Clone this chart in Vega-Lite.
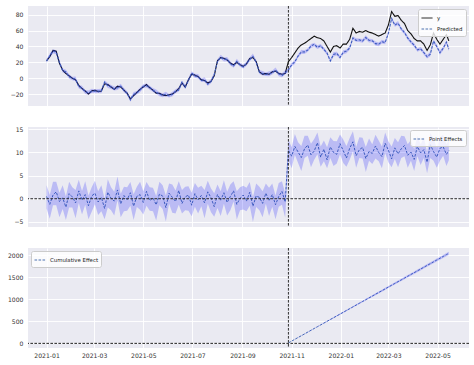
{
"$schema": "https://vega.github.io/schema/vega-lite/v6.json",
"padding": {"left": 6, "top": 5, "right": 5, "bottom": 2},
"background": "white",
"spacing": 19,
"resolve": {"scale": {"color": "independent", "strokeDash": "independent", "x": "independent", "y": "independent"}, "legend": {"color": "independent", "strokeDash": "independent"}},
"config": {
  "view": {"fill": "#EAEAF2", "stroke": null},
  "font": "DejaVu Sans",
  "axis": {"domain": false, "ticks": false, "tickSize": 0, "gridColor": "#ffffff", "gridWidth": 0.9, "labelFontSize": 6.1, "labelColor": "#333333", "title": null, "labelPadding": 5, "labelFont": "DejaVu Sans", "labelOverlap": false, "tickCount": 12},
  "axisY": {"minExtent": 22, "maxExtent": 22, "format": "d", "labelOverlap": false},
  "legend": {"symbolType": "stroke", "symbolSize": 121, "symbolStrokeWidth": 1, "labelFontSize": 5.4, "labelColor": "#222222", "labelFont": "DejaVu Sans", "labelOffset": 4, "padding": 3, "rowPadding": 1, "fillColor": "rgba(255,255,255,0.8)", "strokeColor": "#cccccc", "cornerRadius": 2, "offset": 3}
},
"datasets": {"d": [
{"d":"2021-01-01","y":22,"Predicted":21.5,"pl":19.1,"pu":24.1,"e":0.5,"el":-2.1,"eu":2.9},
{"d":"2021-01-05","y":27,"Predicted":28.2,"pl":26.2,"pu":31.3,"e":-1.2,"el":-4.3,"eu":0.8},
{"d":"2021-01-09","y":35,"Predicted":34.2,"pl":31.3,"pu":36.4,"e":0.8,"el":-1.4,"eu":3.7},
{"d":"2021-01-13","y":34,"Predicted":32.5,"pl":30.3,"pu":35.4,"e":1.5,"el":-1.4,"eu":3.7},
{"d":"2021-01-17","y":19,"Predicted":19.6,"pl":17.7,"pu":23.0,"e":-0.6,"el":-4.0,"eu":1.3},
{"d":"2021-01-21","y":10,"Predicted":9.8,"pl":7.1,"pu":12.2,"e":0.2,"el":-2.2,"eu":2.9},
{"d":"2021-01-25","y":6,"Predicted":7.8,"pl":5.5,"pu":10.6,"e":-1.8,"el":-4.6,"eu":0.5},
{"d":"2021-01-29","y":3,"Predicted":1.9,"pl":-0.7,"pu":4.9,"e":1.1,"el":-1.9,"eu":3.7},
{"d":"2021-02-02","y":0,"Predicted":-0.4,"pl":-2.5,"pu":1.9,"e":0.4,"el":-1.9,"eu":2.5},
{"d":"2021-02-06","y":-2,"Predicted":-1.1,"pl":-3.9,"pu":2.2,"e":-0.9,"el":-4.2,"eu":1.9},
{"d":"2021-02-10","y":-9,"Predicted":-10.7,"pl":-13.1,"pu":-8.1,"e":1.7,"el":-0.9,"eu":4.1},
{"d":"2021-02-14","y":-13,"Predicted":-12.7,"pl":-14.7,"pu":-9.6,"e":-0.3,"el":-3.4,"eu":1.7},
{"d":"2021-02-18","y":-16,"Predicted":-16.9,"pl":-19.8,"pu":-14.7,"e":0.9,"el":-1.3,"eu":3.8},
{"d":"2021-02-22","y":-20,"Predicted":-18.5,"pl":-20.7,"pu":-15.6,"e":-1.5,"el":-4.4,"eu":0.7},
{"d":"2021-02-26","y":-16,"Predicted":-16.6,"pl":-18.5,"pu":-13.2,"e":0.6,"el":-2.8,"eu":2.5},
{"d":"2021-03-02","y":-15,"Predicted":-16.2,"pl":-18.9,"pu":-13.8,"e":1.2,"el":-1.2,"eu":3.9},
{"d":"2021-03-06","y":-17,"Predicted":-16.3,"pl":-18.6,"pu":-13.5,"e":-0.7,"el":-3.5,"eu":1.6},
{"d":"2021-03-10","y":-16,"Predicted":-16.3,"pl":-18.9,"pu":-13.3,"e":0.3,"el":-2.7,"eu":2.9},
{"d":"2021-03-14","y":-7,"Predicted":-4.9,"pl":-7.0,"pu":-2.6,"e":-2.1,"el":-4.4,"eu":0.0},
{"d":"2021-03-18","y":-8,"Predicted":-9.4,"pl":-12.2,"pu":-6.1,"e":1.4,"el":-1.9,"eu":4.2},
{"d":"2021-03-22","y":-11,"Predicted":-11.1,"pl":-13.5,"pu":-8.5,"e":0.1,"el":-2.5,"eu":2.5},
{"d":"2021-03-26","y":-14,"Predicted":-13.5,"pl":-15.5,"pu":-10.4,"e":-0.5,"el":-3.6,"eu":1.5},
{"d":"2021-03-30","y":-10,"Predicted":-11.9,"pl":-14.8,"pu":-9.7,"e":1.9,"el":-0.3,"eu":4.8},
{"d":"2021-04-03","y":-11,"Predicted":-9.9,"pl":-12.1,"pu":-7.0,"e":-1.1,"el":-4.0,"eu":1.1},
{"d":"2021-04-07","y":-15,"Predicted":-15.7,"pl":-17.6,"pu":-12.3,"e":0.7,"el":-2.7,"eu":2.6},
{"d":"2021-04-11","y":-19,"Predicted":-18.8,"pl":-21.5,"pu":-16.4,"e":-0.2,"el":-2.6,"eu":2.5},
{"d":"2021-04-15","y":-26,"Predicted":-27.3,"pl":-29.6,"pu":-24.5,"e":1.3,"el":-1.5,"eu":3.6},
{"d":"2021-04-19","y":-22,"Predicted":-20.4,"pl":-23.0,"pu":-17.4,"e":-1.6,"el":-4.6,"eu":1.0},
{"d":"2021-04-23","y":-18,"Predicted":-18.5,"pl":-20.6,"pu":-16.2,"e":0.5,"el":-1.8,"eu":2.6},
{"d":"2021-04-27","y":-14,"Predicted":-14.9,"pl":-17.7,"pu":-11.6,"e":0.9,"el":-2.4,"eu":3.7},
{"d":"2021-05-01","y":-11,"Predicted":-10.2,"pl":-12.6,"pu":-7.6,"e":-0.8,"el":-3.4,"eu":1.6},
{"d":"2021-05-05","y":-8,"Predicted":-9.6,"pl":-11.6,"pu":-6.5,"e":1.6,"el":-1.5,"eu":3.6},
{"d":"2021-05-09","y":-12,"Predicted":-11.6,"pl":-14.5,"pu":-9.4,"e":-0.4,"el":-2.6,"eu":2.5},
{"d":"2021-05-13","y":-15,"Predicted":-15.2,"pl":-17.4,"pu":-12.3,"e":0.2,"el":-2.7,"eu":2.4},
{"d":"2021-05-17","y":-19,"Predicted":-17.7,"pl":-19.6,"pu":-14.3,"e":-1.3,"el":-4.7,"eu":0.6},
{"d":"2021-05-21","y":-19,"Predicted":-20.0,"pl":-22.7,"pu":-17.6,"e":1.0,"el":-1.4,"eu":3.7},
{"d":"2021-05-25","y":-21,"Predicted":-21.6,"pl":-23.9,"pu":-18.8,"e":0.6,"el":-2.2,"eu":2.9},
{"d":"2021-05-29","y":-22,"Predicted":-20.1,"pl":-22.7,"pu":-17.1,"e":-1.9,"el":-4.9,"eu":0.7},
{"d":"2021-06-02","y":-21,"Predicted":-22.2,"pl":-24.3,"pu":-19.9,"e":1.2,"el":-1.1,"eu":3.3},
{"d":"2021-06-06","y":-20,"Predicted":-20.3,"pl":-23.1,"pu":-17.0,"e":0.3,"el":-3.0,"eu":3.1},
{"d":"2021-06-10","y":-17,"Predicted":-16.4,"pl":-18.8,"pu":-13.8,"e":-0.6,"el":-3.2,"eu":1.8},
{"d":"2021-06-14","y":-13,"Predicted":-14.8,"pl":-16.8,"pu":-11.7,"e":1.8,"el":-1.3,"eu":3.8},
{"d":"2021-06-18","y":-6,"Predicted":-5.0,"pl":-7.9,"pu":-2.8,"e":-1.0,"el":-3.2,"eu":1.9},
{"d":"2021-06-22","y":-11,"Predicted":-11.4,"pl":-13.6,"pu":-8.5,"e":0.4,"el":-2.5,"eu":2.6},
{"d":"2021-06-26","y":-2,"Predicted":-2.8,"pl":-4.7,"pu":0.6,"e":0.8,"el":-2.6,"eu":2.7},
{"d":"2021-06-30","y":5,"Predicted":6.4,"pl":3.7,"pu":8.8,"e":-1.4,"el":-3.8,"eu":1.3},
{"d":"2021-07-04","y":4,"Predicted":2.9,"pl":0.6,"pu":5.7,"e":1.1,"el":-1.7,"eu":3.4},
{"d":"2021-07-08","y":2,"Predicted":2.2,"pl":-0.4,"pu":5.2,"e":-0.2,"el":-3.2,"eu":2.4},
{"d":"2021-07-12","y":-2,"Predicted":-2.7,"pl":-4.8,"pu":-0.4,"e":0.7,"el":-1.6,"eu":2.8},
{"d":"2021-07-16","y":-3,"Predicted":-2.1,"pl":-4.9,"pu":1.2,"e":-0.9,"el":-4.2,"eu":1.9},
{"d":"2021-07-20","y":-6,"Predicted":-7.5,"pl":-9.9,"pu":-4.9,"e":1.5,"el":-1.1,"eu":3.9},
{"d":"2021-07-24","y":-4,"Predicted":-4.2,"pl":-6.2,"pu":-1.1,"e":0.2,"el":-2.9,"eu":2.2},
{"d":"2021-07-28","y":3,"Predicted":4.7,"pl":1.8,"pu":6.9,"e":-1.7,"el":-3.9,"eu":1.2},
{"d":"2021-08-01","y":22,"Predicted":21.1,"pl":18.9,"pu":24.0,"e":0.9,"el":-2.0,"eu":3.1},
{"d":"2021-08-05","y":26,"Predicted":26.3,"pl":24.4,"pu":29.7,"e":-0.3,"el":-3.7,"eu":1.6},
{"d":"2021-08-09","y":25,"Predicted":23.7,"pl":21.0,"pu":26.1,"e":1.3,"el":-1.1,"eu":4.0},
{"d":"2021-08-13","y":23,"Predicted":23.8,"pl":21.5,"pu":26.6,"e":-0.8,"el":-3.6,"eu":1.5},
{"d":"2021-08-17","y":19,"Predicted":18.5,"pl":15.9,"pu":21.5,"e":0.5,"el":-2.5,"eu":3.1},
{"d":"2021-08-21","y":17,"Predicted":15.3,"pl":13.2,"pu":17.6,"e":1.7,"el":-0.6,"eu":3.8},
{"d":"2021-08-25","y":20,"Predicted":21.2,"pl":18.4,"pu":24.5,"e":-1.2,"el":-4.5,"eu":1.6},
{"d":"2021-08-29","y":17,"Predicted":16.9,"pl":14.5,"pu":19.5,"e":0.1,"el":-2.5,"eu":2.5},
{"d":"2021-09-02","y":15,"Predicted":14.2,"pl":12.2,"pu":17.3,"e":0.8,"el":-2.3,"eu":2.8},
{"d":"2021-09-06","y":18,"Predicted":18.5,"pl":15.6,"pu":20.7,"e":-0.5,"el":-2.7,"eu":2.4},
{"d":"2021-09-10","y":25,"Predicted":23.6,"pl":21.4,"pu":26.5,"e":1.4,"el":-1.5,"eu":3.6},
{"d":"2021-09-14","y":26,"Predicted":27.6,"pl":25.7,"pu":31.0,"e":-1.6,"el":-5.0,"eu":0.3},
{"d":"2021-09-18","y":21,"Predicted":20.4,"pl":17.7,"pu":22.8,"e":0.6,"el":-1.8,"eu":3.3},
{"d":"2021-09-22","y":8,"Predicted":7.7,"pl":5.4,"pu":10.5,"e":0.3,"el":-2.5,"eu":2.6},
{"d":"2021-09-26","y":5,"Predicted":6.0,"pl":3.4,"pu":9.0,"e":-1.0,"el":-4.0,"eu":1.6},
{"d":"2021-09-30","y":6,"Predicted":4.8,"pl":2.7,"pu":7.1,"e":1.2,"el":-1.1,"eu":3.3},
{"d":"2021-10-04","y":5,"Predicted":5.4,"pl":2.6,"pu":8.7,"e":-0.4,"el":-3.7,"eu":2.4},
{"d":"2021-10-08","y":8,"Predicted":7.1,"pl":4.7,"pu":9.7,"e":0.9,"el":-1.7,"eu":3.3},
{"d":"2021-10-12","y":9,"Predicted":10.3,"pl":8.3,"pu":13.4,"e":-1.3,"el":-4.4,"eu":0.7},
{"d":"2021-10-16","y":6,"Predicted":5.5,"pl":2.6,"pu":7.7,"e":0.5,"el":-1.7,"eu":3.4},
{"d":"2021-10-20","y":5,"Predicted":3.4,"pl":1.2,"pu":6.3,"e":1.6,"el":-1.3,"eu":3.8},
{"d":"2021-10-24","y":6,"Predicted":6.7,"pl":4.8,"pu":10.1,"e":-0.7,"el":-4.1,"eu":1.2},
{"d":"2021-10-28","y":21,"Predicted":10.5,"pl":8.2,"pu":12.6,"e":10.5,"el":8.4,"eu":12.8,"c":10,"cl":7,"cu":13},
{"d":"2021-11-01","y":26,"Predicted":16.8,"pl":14.9,"pu":19.4,"e":9.2,"el":6.6,"eu":11.1,"c":51,"cl":47,"cu":55},
{"d":"2021-11-05","y":32,"Predicted":20.7,"pl":18.0,"pu":22.5,"e":11.3,"el":9.5,"eu":14.0,"c":92,"cl":88,"cu":96},
{"d":"2021-11-09","y":38,"Predicted":27.9,"pl":25.8,"pu":30.3,"e":10.1,"el":7.7,"eu":12.2,"c":133,"cl":128,"cu":138},
{"d":"2021-11-13","y":42,"Predicted":33.1,"pl":30.6,"pu":36.0,"e":8.9,"el":6.0,"eu":11.4,"c":173,"cl":167,"cu":179},
{"d":"2021-11-17","y":44,"Predicted":33.2,"pl":30.4,"pu":35.2,"e":10.8,"el":8.8,"eu":13.6,"c":214,"cl":208,"cu":220},
{"d":"2021-11-21","y":47,"Predicted":35.4,"pl":33.4,"pu":37.7,"e":11.6,"el":9.3,"eu":13.6,"c":255,"cl":248,"cu":262},
{"d":"2021-11-25","y":50,"Predicted":40.5,"pl":38.1,"pu":43.2,"e":9.5,"el":6.8,"eu":11.9,"c":296,"cl":288,"cu":304},
{"d":"2021-11-29","y":53,"Predicted":42.7,"pl":40.1,"pu":44.6,"e":10.3,"el":8.4,"eu":12.9,"c":337,"cl":329,"cu":345},
{"d":"2021-12-03","y":51,"Predicted":38.9,"pl":36.7,"pu":41.4,"e":12.1,"el":9.6,"eu":14.3,"c":377,"cl":368,"cu":386},
{"d":"2021-12-07","y":50,"Predicted":41.0,"pl":38.7,"pu":43.1,"e":9.0,"el":6.9,"eu":11.3,"c":418,"cl":409,"cu":427},
{"d":"2021-12-11","y":47,"Predicted":36.3,"pl":34.4,"pu":38.9,"e":10.7,"el":8.1,"eu":12.6,"c":459,"cl":449,"cu":469},
{"d":"2021-12-15","y":40,"Predicted":31.6,"pl":28.9,"pu":33.4,"e":8.4,"el":6.6,"eu":11.1,"c":500,"cl":489,"cu":511},
{"d":"2021-12-19","y":33,"Predicted":21.8,"pl":19.7,"pu":24.2,"e":11.2,"el":8.8,"eu":13.3,"c":541,"cl":530,"cu":552},
{"d":"2021-12-23","y":40,"Predicted":30.0,"pl":27.5,"pu":32.9,"e":10.0,"el":7.1,"eu":12.5,"c":581,"cl":569,"cu":593},
{"d":"2021-12-27","y":41,"Predicted":31.4,"pl":28.6,"pu":33.4,"e":9.6,"el":7.6,"eu":12.4,"c":622,"cl":609,"cu":635},
{"d":"2021-12-31","y":38,"Predicted":26.1,"pl":24.1,"pu":28.4,"e":11.9,"el":9.6,"eu":13.9,"c":663,"cl":650,"cu":676},
{"d":"2022-01-04","y":43,"Predicted":32.6,"pl":30.2,"pu":35.3,"e":10.4,"el":7.7,"eu":12.8,"c":704,"cl":690,"cu":718},
{"d":"2022-01-08","y":43,"Predicted":34.2,"pl":31.6,"pu":36.1,"e":8.8,"el":6.9,"eu":11.4,"c":745,"cl":730,"cu":760},
{"d":"2022-01-12","y":49,"Predicted":38.1,"pl":35.9,"pu":40.6,"e":10.9,"el":8.4,"eu":13.1,"c":785,"cl":770,"cu":800},
{"d":"2022-01-16","y":63,"Predicted":50.7,"pl":48.4,"pu":52.8,"e":12.3,"el":10.2,"eu":14.6,"c":826,"cl":810,"cu":842},
{"d":"2022-01-20","y":57,"Predicted":47.7,"pl":45.8,"pu":50.3,"e":9.3,"el":6.7,"eu":11.2,"c":867,"cl":850,"cu":884},
{"d":"2022-01-24","y":59,"Predicted":48.4,"pl":45.7,"pu":50.2,"e":10.6,"el":8.8,"eu":13.3,"c":908,"cl":891,"cu":925},
{"d":"2022-01-28","y":58,"Predicted":46.9,"pl":44.8,"pu":49.3,"e":11.1,"el":8.7,"eu":13.2,"c":949,"cl":931,"cu":967},
{"d":"2022-02-01","y":60,"Predicted":51.3,"pl":48.8,"pu":54.2,"e":8.7,"el":5.8,"eu":11.2,"c":989,"cl":970,"cu":1008},
{"d":"2022-02-05","y":58,"Predicted":47.8,"pl":45.0,"pu":49.8,"e":10.2,"el":8.2,"eu":13.0,"c":1030,"cl":1011,"cu":1049},
{"d":"2022-02-09","y":57,"Predicted":47.2,"pl":45.2,"pu":49.5,"e":9.8,"el":7.5,"eu":11.8,"c":1071,"cl":1051,"cu":1091},
{"d":"2022-02-13","y":55,"Predicted":43.6,"pl":41.2,"pu":46.3,"e":11.4,"el":8.7,"eu":13.8,"c":1112,"cl":1091,"cu":1133},
{"d":"2022-02-17","y":53,"Predicted":43.0,"pl":40.4,"pu":44.9,"e":10.0,"el":8.1,"eu":12.6,"c":1153,"cl":1132,"cu":1174},
{"d":"2022-02-21","y":55,"Predicted":45.9,"pl":43.7,"pu":48.4,"e":9.1,"el":6.6,"eu":11.3,"c":1193,"cl":1171,"cu":1215},
{"d":"2022-02-25","y":57,"Predicted":45.0,"pl":42.7,"pu":47.1,"e":12.0,"el":9.9,"eu":14.3,"c":1234,"cl":1211,"cu":1257},
{"d":"2022-03-01","y":67,"Predicted":56.5,"pl":54.6,"pu":59.1,"e":10.5,"el":7.9,"eu":12.4,"c":1275,"cl":1252,"cu":1298},
{"d":"2022-03-05","y":84,"Predicted":75.4,"pl":72.7,"pu":77.2,"e":8.6,"el":6.8,"eu":11.3,"c":1316,"cl":1292,"cu":1340},
{"d":"2022-03-09","y":78,"Predicted":67.0,"pl":64.9,"pu":69.4,"e":11.0,"el":8.6,"eu":13.1,"c":1357,"cl":1332,"cu":1382},
{"d":"2022-03-13","y":79,"Predicted":69.3,"pl":66.8,"pu":72.2,"e":9.7,"el":6.8,"eu":12.2,"c":1397,"cl":1372,"cu":1422},
{"d":"2022-03-17","y":73,"Predicted":62.2,"pl":59.4,"pu":64.2,"e":10.8,"el":8.8,"eu":13.6,"c":1438,"cl":1412,"cu":1464},
{"d":"2022-03-21","y":69,"Predicted":57.5,"pl":55.5,"pu":59.8,"e":11.5,"el":9.2,"eu":13.5,"c":1479,"cl":1452,"cu":1506},
{"d":"2022-03-25","y":60,"Predicted":50.6,"pl":48.2,"pu":53.3,"e":9.4,"el":6.7,"eu":11.8,"c":1520,"cl":1493,"cu":1547},
{"d":"2022-03-29","y":56,"Predicted":45.9,"pl":43.3,"pu":47.8,"e":10.1,"el":8.2,"eu":12.7,"c":1561,"cl":1533,"cu":1589},
{"d":"2022-04-02","y":50,"Predicted":41.5,"pl":39.3,"pu":44.0,"e":8.5,"el":6.0,"eu":10.7,"c":1601,"cl":1572,"cu":1630},
{"d":"2022-04-06","y":47,"Predicted":35.7,"pl":33.4,"pu":37.8,"e":11.3,"el":9.2,"eu":13.6,"c":1642,"cl":1613,"cu":1671},
{"d":"2022-04-10","y":47,"Predicted":37.1,"pl":35.2,"pu":39.7,"e":9.9,"el":7.3,"eu":11.8,"c":1683,"cl":1653,"cu":1713},
{"d":"2022-04-14","y":43,"Predicted":32.4,"pl":29.7,"pu":34.2,"e":10.6,"el":8.8,"eu":13.3,"c":1724,"cl":1693,"cu":1755},
{"d":"2022-04-18","y":35,"Predicted":27.1,"pl":25.0,"pu":29.5,"e":7.9,"el":5.5,"eu":10.0,"c":1765,"cl":1734,"cu":1796},
{"d":"2022-04-22","y":42,"Predicted":30.3,"pl":27.8,"pu":33.2,"e":11.7,"el":8.8,"eu":14.2,"c":1805,"cl":1773,"cu":1837},
{"d":"2022-04-26","y":57,"Predicted":46.8,"pl":44.0,"pu":48.8,"e":10.2,"el":8.2,"eu":13.0,"c":1846,"cl":1813,"cu":1879},
{"d":"2022-04-30","y":49,"Predicted":40.0,"pl":38.0,"pu":42.3,"e":9.0,"el":6.7,"eu":11.0,"c":1887,"cl":1854,"cu":1920},
{"d":"2022-05-04","y":43,"Predicted":32.1,"pl":29.7,"pu":34.8,"e":10.9,"el":8.2,"eu":13.3,"c":1928,"cl":1894,"cu":1962},
{"d":"2022-05-08","y":49,"Predicted":37.8,"pl":35.2,"pu":39.7,"e":11.2,"el":9.3,"eu":13.8,"c":1969,"cl":1934,"cu":2004},
{"d":"2022-05-12","y":55,"Predicted":45.4,"pl":43.2,"pu":47.9,"e":9.6,"el":7.1,"eu":11.8,"c":2009,"cl":1974,"cu":2044},
{"d":"2022-05-15","y":47,"Predicted":36.6,"pl":34.3,"pu":38.7,"e":10.4,"el":8.3,"eu":12.7,"c":2040,"cl":2004,"cu":2076}
]},
"vconcat": [
{
  "width": 441, "height": 100,
  "layer": [
    {"data": {"name": "d"}, "transform": [{"fold": ["y", "Predicted"], "as": ["series", "val"]}],
     "mark": {"type": "line", "strokeWidth": 1.1},
     "encoding": {
       "x": {"field": "d", "type": "temporal", "scale": {"type": "utc", "domain": [{"year": 2020, "month": 12, "date": 9, "utc": true}, {"year": 2022, "month": 6, "date": 9, "utc": true}]}, "axis": {"labels": false, "tickCount": 12, "values": [{"year":2021,"month":1,"date":1,"utc":true},{"year":2021,"month":3,"date":1,"utc":true},{"year":2021,"month":5,"date":1,"utc":true},{"year":2021,"month":7,"date":1,"utc":true},{"year":2021,"month":9,"date":1,"utc":true},{"year":2021,"month":11,"date":1,"utc":true},{"year":2022,"month":1,"date":1,"utc":true},{"year":2022,"month":3,"date":1,"utc":true},{"year":2022,"month":5,"date":1,"utc":true}]}},
       "y": {"field": "val", "type": "quantitative", "scale": {"domain": [-35, 91], "nice": false, "zero": false}, "axis": {"values": [-20, 0, 20, 40, 60, 80], "tickCount": 12, "labelOverlap": false, "format": "d"}},
       "color": {"field": "series", "type": "nominal", "scale": {"domain": ["y", "Predicted"], "range": ["#111111", "#4C72B0"]}, "legend": {"title": null, "orient": "top-right"}},
       "strokeDash": {"field": "series", "type": "nominal", "scale": {"domain": ["y", "Predicted"], "range": [[1, 0], [2.6, 1.4]]}, "legend": {"title": null, "orient": "top-right"}}
     }},
    {"data": {"name": "d"}, "mark": {"type": "area", "color": "#0000ff", "opacity": 0.2},
     "encoding": {"x": {"field": "d", "type": "temporal"}, "y": {"field": "pl", "type": "quantitative"}, "y2": {"field": "pu"}}},
    {"data": {"values": [{}]}, "mark": {"type": "rule", "color": "#333333", "strokeDash": [2.6, 1.4], "strokeWidth": 1},
     "encoding": {"x": {"datum": {"year": 2021, "month": 10, "date": 28, "utc": true}, "type": "temporal"}}}
  ]
},
{
  "width": 441, "height": 100,
  "layer": [
    {"data": {"name": "d"},
     "mark": {"type": "line", "strokeWidth": 1, "strokeDash": [2.6, 1.4]},
     "encoding": {
       "x": {"field": "d", "type": "temporal", "scale": {"type": "utc", "domain": [{"year": 2020, "month": 12, "date": 9, "utc": true}, {"year": 2022, "month": 6, "date": 9, "utc": true}]}, "axis": {"labels": false, "tickCount": 12, "values": [{"year":2021,"month":1,"date":1,"utc":true},{"year":2021,"month":3,"date":1,"utc":true},{"year":2021,"month":5,"date":1,"utc":true},{"year":2021,"month":7,"date":1,"utc":true},{"year":2021,"month":9,"date":1,"utc":true},{"year":2021,"month":11,"date":1,"utc":true},{"year":2022,"month":1,"date":1,"utc":true},{"year":2022,"month":3,"date":1,"utc":true},{"year":2022,"month":5,"date":1,"utc":true}]}},
       "y": {"field": "e", "type": "quantitative", "scale": {"domain": [-6.1, 15.5], "nice": false, "zero": false}, "axis": {"values": [-5, 0, 5, 10, 15], "tickCount": 12, "labelOverlap": false, "format": "d"}},
       "color": {"datum": "Point Effects", "scale": {"range": ["#4C72B0"]}, "legend": {"title": null, "orient": "top-right", "symbolDash": [2.6, 1.4]}}
     }},
    {"data": {"name": "d"}, "mark": {"type": "area", "color": "#0000ff", "opacity": 0.2},
     "encoding": {"x": {"field": "d", "type": "temporal"}, "y": {"field": "el", "type": "quantitative"}, "y2": {"field": "eu"}}},
    {"data": {"values": [{}]}, "mark": {"type": "rule", "color": "#333333", "strokeDash": [2.6, 1.4], "strokeWidth": 1},
     "encoding": {"x": {"datum": {"year": 2021, "month": 10, "date": 28, "utc": true}, "type": "temporal"}}},
    {"data": {"values": [{}]}, "mark": {"type": "rule", "color": "#222222", "strokeDash": [2.6, 1.4], "strokeWidth": 1},
     "encoding": {"y": {"datum": 0, "type": "quantitative"}}}
  ]
},
{
  "width": 441, "height": 100,
  "layer": [
    {"data": {"name": "d"}, "transform": [{"filter": "isValid(datum.c)"}],
     "mark": {"type": "line", "strokeWidth": 1, "strokeDash": [2.6, 1.4]},
     "encoding": {
       "x": {"field": "d", "type": "temporal", "scale": {"type": "utc", "domain": [{"year": 2020, "month": 12, "date": 9, "utc": true}, {"year": 2022, "month": 6, "date": 9, "utc": true}]}, "axis": {"format": "%Y-%m", "labelPadding": 4, "labelOverlap": false, "tickCount": 12, "values": [{"year":2021,"month":1,"date":1,"utc":true},{"year":2021,"month":3,"date":1,"utc":true},{"year":2021,"month":5,"date":1,"utc":true},{"year":2021,"month":7,"date":1,"utc":true},{"year":2021,"month":9,"date":1,"utc":true},{"year":2021,"month":11,"date":1,"utc":true},{"year":2022,"month":1,"date":1,"utc":true},{"year":2022,"month":3,"date":1,"utc":true},{"year":2022,"month":5,"date":1,"utc":true}]}},
       "y": {"field": "c", "type": "quantitative", "scale": {"domain": [-105, 2160], "nice": false, "zero": false}, "axis": {"values": [0, 500, 1000, 1500, 2000], "tickCount": 12, "labelOverlap": false, "format": "d"}},
       "color": {"datum": "Cumulative Effect", "scale": {"range": ["#4C72B0"]}, "legend": {"title": null, "orient": "top-left", "symbolDash": [2.6, 1.4]}}
     }},
    {"data": {"name": "d"}, "transform": [{"filter": "isValid(datum.c)"}], "mark": {"type": "area", "color": "#0000ff", "opacity": 0.2},
     "encoding": {"x": {"field": "d", "type": "temporal"}, "y": {"field": "cl", "type": "quantitative"}, "y2": {"field": "cu"}}},
    {"data": {"values": [{}]}, "mark": {"type": "rule", "color": "#333333", "strokeDash": [2.6, 1.4], "strokeWidth": 1},
     "encoding": {"x": {"datum": {"year": 2021, "month": 10, "date": 28, "utc": true}, "type": "temporal"}}},
    {"data": {"values": [{}]}, "mark": {"type": "rule", "color": "#222222", "strokeDash": [2.6, 1.4], "strokeWidth": 1},
     "encoding": {"y": {"datum": 0, "type": "quantitative"}}}
  ]
}
]
}
